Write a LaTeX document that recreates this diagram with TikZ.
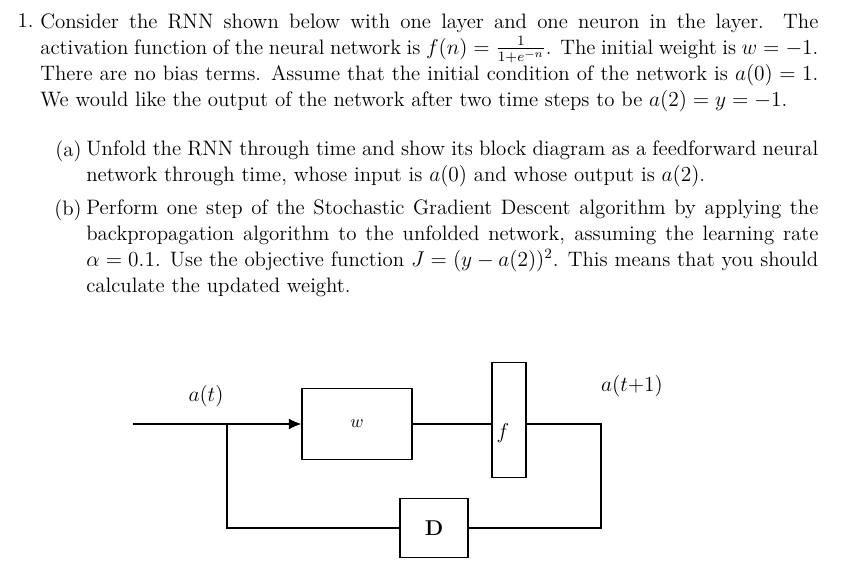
\documentclass[tikz,border=0pt]{standalone}
\usepackage{amsmath,amssymb}
\usepackage{tikz}
\usetikzlibrary{arrows.meta}

\begin{document}
\begin{tikzpicture}[x=0.56pt,y=-0.56pt,
  para/.style={anchor=north west, inner sep=0pt, align=justify, font=\fontsize{11.7}{14.6}\selectfont},
  blk/.style={draw, line width=0.6pt, inner sep=0pt},
  wire/.style={line width=0.6pt}]
\useasboundingbox (0,0) rectangle (868,571);
% Problem text
\node[para, anchor=north east] (num) at (34,13) {1.};
\node[para, text width=778*0.56pt] (q) at (40,13) {Consider the RNN shown below with one layer and one neuron in the layer. The activation function of the neural network is $f(n)=\frac{1}{1+e^{-n}}$. The initial weight is $w=-1$. There are no bias terms. Assume that the initial condition of the network is $a(0)=1$. We would like the output of the network after two time steps to be $a(2)=y=-1$.};
\node[para, anchor=north east] (la) at (82,140) {(a)};
\node[para, text width=732*0.56pt] (qa) at (86,140) {Unfold the RNN through time and show its block diagram as a feedforward neural network through time, whose input is $a(0)$ and whose output is $a(2)$.};
\node[para, anchor=north east] (lb) at (82,199) {(b)};
\node[para, text width=732*0.56pt] (qb) at (86,199) {Perform one step of the Stochastic Gradient Descent algorithm by applying the backpropagation algorithm to the unfolded network, assuming the learning rate $\alpha=0.1$. Use the objective function $J=(y-a(2))^2$. This means that you should calculate the updated weight.};

% Block diagram
\node[blk, minimum width=110*0.56pt, minimum height=71*0.56pt] (w) at (357,424) {$w$};
\node[blk, minimum width=34*0.56pt, minimum height=115*0.56pt] (f) at (509,420) {};
\node (fl) at (503,433) {\large$f$};
\node[blk, minimum width=68*0.56pt, minimum height=59*0.56pt] (D) at (434,528) {\large\textbf{D}};
\coordinate (in) at (133,424);
\coordinate (br) at (227,424);
\coordinate (cr) at (601,424);
\node (at) at (206,396) {\large$a(t)$};
\node (at1) at (632,386) {\large$a(t{+}1)$};

\draw[wire, -{Latex[length=7pt,width=6pt]}] (in) -- (w.west);
\draw[wire] (w.east) -- (f.west |- w.east);
\draw[wire] (f.east |- cr) -- (cr) |- (D.east);
\draw[wire] (D.west) -| (br);
\end{tikzpicture}
\end{document}
